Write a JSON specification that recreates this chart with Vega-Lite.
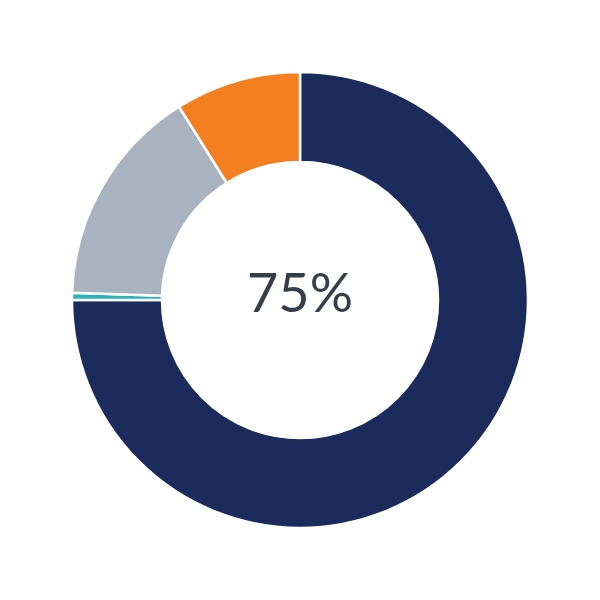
{
  "$schema": "https://vega.github.io/schema/vega-lite/v6.json",
  "width": 600,
  "height": 600,
  "autosize": {"type": "fit", "contains": "padding"},
  "padding": 0,
  "background": "white",
  "data": {
    "values": [
      {"category": "A", "value": 75, "order": 1},
      {"category": "B", "value": 0.5, "order": 2},
      {"category": "C", "value": 15.6, "order": 3},
      {"category": "D", "value": 8.9, "order": 4}
    ]
  },
  "layer": [
    {
      "mark": {"type": "arc", "radius": 228, "innerRadius": 138, "stroke": "white", "strokeWidth": 2.5},
      "encoding": {
        "theta": {"field": "value", "type": "quantitative", "stack": true},
        "order": {"field": "order", "type": "quantitative"},
        "color": {
          "field": "category",
          "type": "nominal",
          "legend": null,
          "scale": {"domain": ["A", "B", "C", "D"], "range": ["#1b2b5b", "#2db3b5", "#a9b3c0", "#f47f20"]}
        }
      }
    },
    {
      "data": {"values": [{"label": "75%"}]},
      "mark": {"type": "text", "fontSize": 54, "font": "Lato", "color": "#363f49", "align": "center", "baseline": "middle", "dy": -4},
      "encoding": {"text": {"field": "label"}}
    }
  ],
  "config": {"view": {"stroke": null}}
}
